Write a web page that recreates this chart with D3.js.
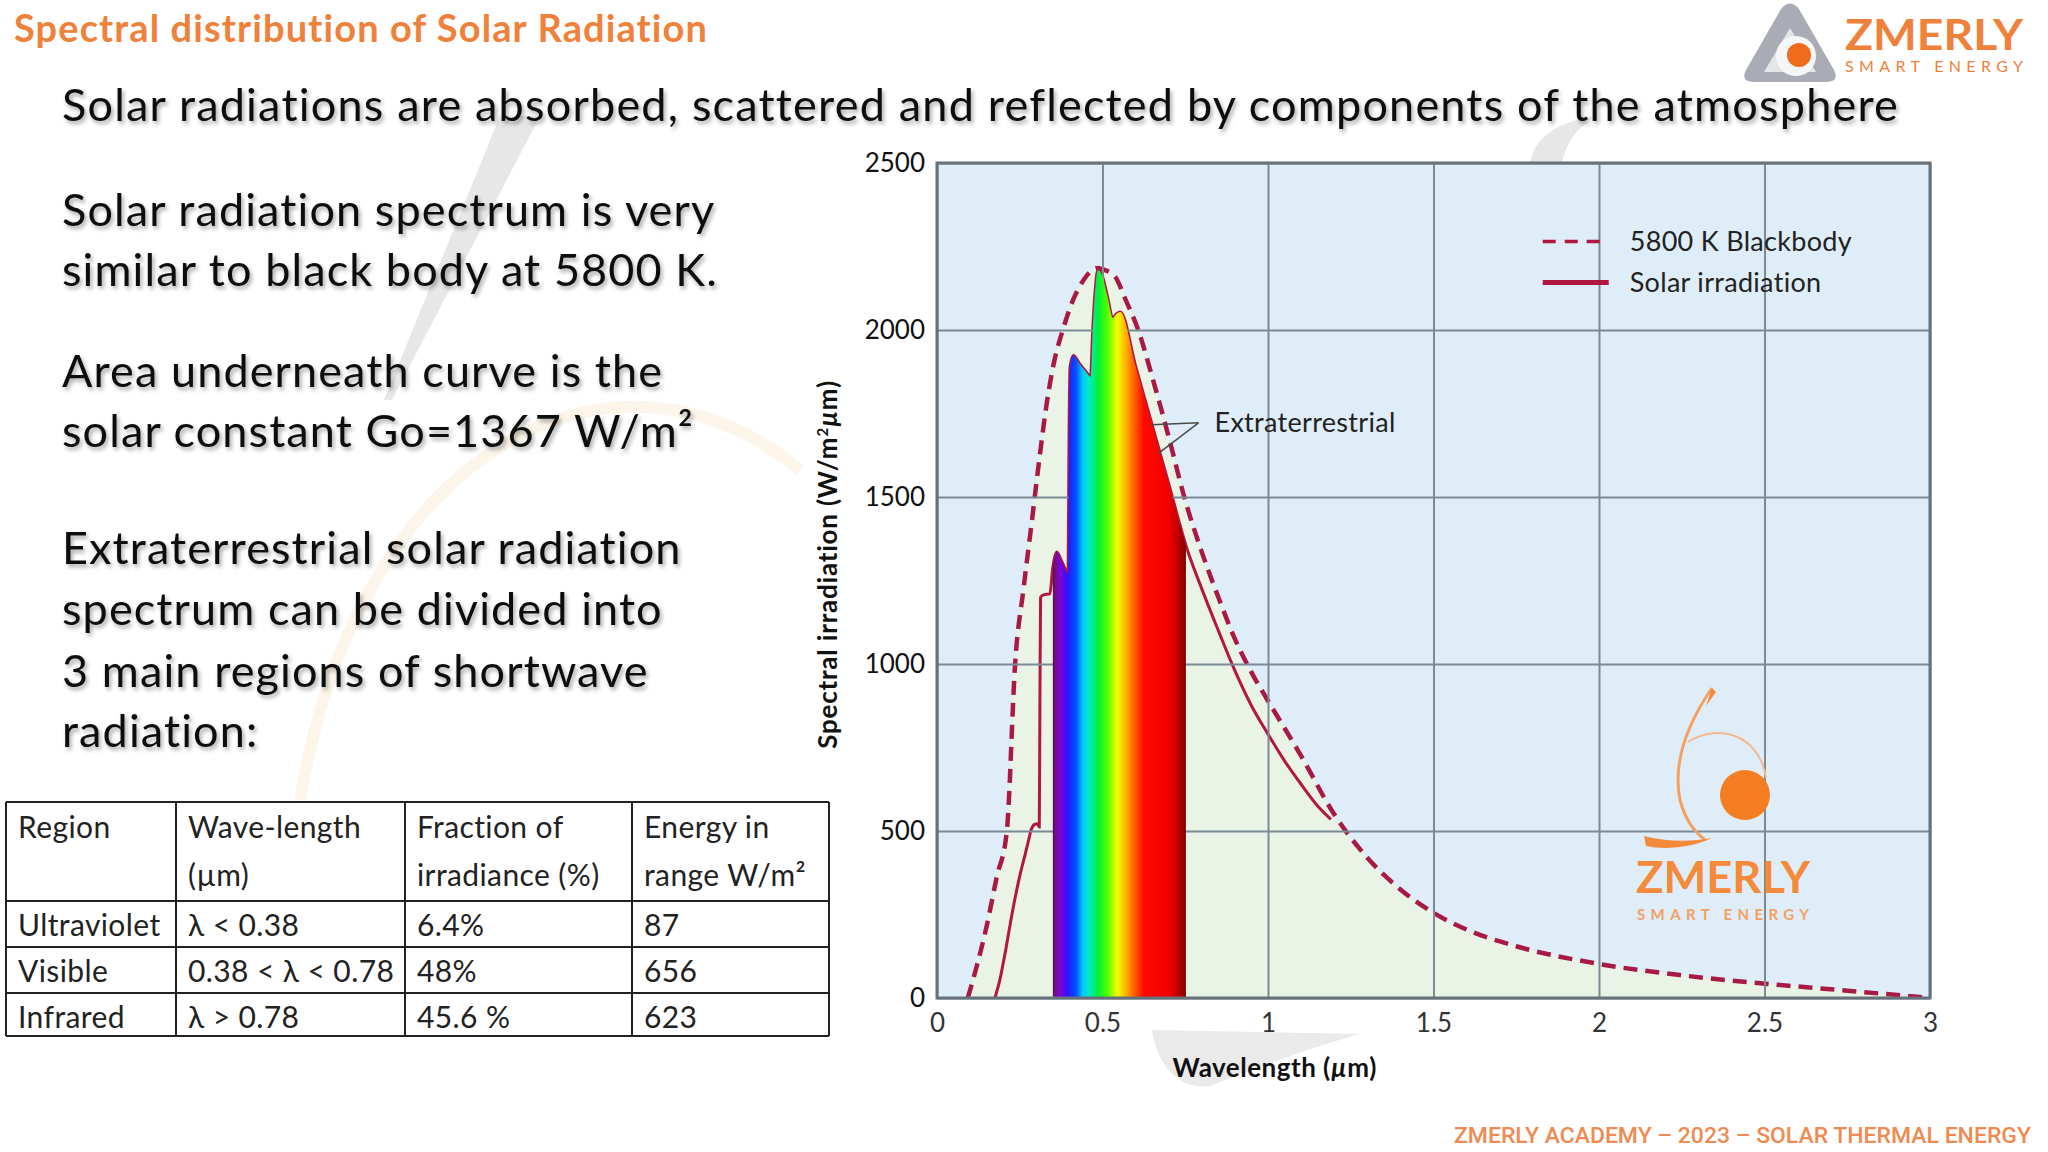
<!DOCTYPE html>
<html>
<head>
<meta charset="utf-8">
<script src="https://cdn.jsdelivr.net/npm/d3@7"></script>
<style>
    body { margin: 0; background: #ffffff; }
    svg { display: block; }
</style>
</head>
<body>
<div id="wrapper"></div>
<script>
// ---- chart data ----
const blackbody_wl = [0.093, 0.12, 0.15, 0.18, 0.211, 0.236, 0.262, 0.287, 0.31, 0.333, 0.355, 0.38, 0.409, 0.443, 0.47, 0.486, 0.505, 0.538, 0.57, 0.608, 0.65, 0.7, 0.747, 0.8, 0.85, 0.9, 0.95, 1.0, 1.1, 1.2, 1.3, 1.4, 1.5, 1.6, 1.75, 2.0, 2.25, 2.5, 2.75, 3.0];
const blackbody_val = [0, 95, 215, 360, 500, 1000, 1230, 1431, 1620, 1790, 1910, 2000, 2085, 2150, 2180, 2186, 2180, 2160, 2090, 2000, 1860, 1680, 1500, 1335, 1200, 1075, 975, 890, 725, 550, 420, 325, 255, 205, 155, 102, 68, 43, 22, 0];

const solar_wl = [0.175, 0.19, 0.205, 0.22, 0.235, 0.25, 0.265, 0.275, 0.285, 0.295, 0.303, 0.309, 0.311, 0.313, 0.322, 0.341, 0.35, 0.362, 0.378, 0.396, 0.399, 0.402, 0.412, 0.43, 0.45, 0.464, 0.47, 0.478, 0.486, 0.5, 0.515, 0.531, 0.542, 0.554, 0.6, 0.65, 0.7, 0.754, 0.8, 0.85, 0.9, 0.95, 1.0, 1.05, 1.1, 1.15, 1.19];
const solar_val = [0, 55, 130, 215, 295, 365, 425, 465, 505, 520, 522, 512, 900, 1200, 1207, 1210, 1290, 1335, 1305, 1272, 1700, 1890, 1924, 1900, 1875, 1860, 1990, 2120, 2180, 2160, 2100, 2036, 2048, 2054, 1892, 1716, 1540, 1349, 1225, 1100, 980, 875, 790, 710, 640, 575, 535];

// visible band colours
const spectrum_wl = [0.35, 0.356, 0.372, 0.395, 0.42, 0.44, 0.46, 0.485, 0.515, 0.545, 0.57, 0.595, 0.625, 0.7, 0.732, 0.752];
const spectrum_color = ["#5a0c30", "#6c0f8a", "#8200d6", "#2a14ff", "#0050ff", "#00c8ff", "#00eec0", "#00f040", "#50ff00", "#f2ff00", "#ffb400", "#ff6200", "#ff0a00", "#f20000", "#b80000", "#7c0000"];

const x_ticks = [0, 0.5, 1, 1.5, 2, 2.5, 3];
const y_ticks = [0, 500, 1000, 1500, 2000, 2500];
const series_names = ["5800 K Blackbody", "Solar irradiation"];

// ---- slide text ----
const title_text = "Spectral distribution of Solar Radiation";
const headline_text = "Solar radiations are absorbed, scattered and reflected by components of the atmosphere";
const body_lines = [
    "Solar radiation spectrum is very",
    "similar to black body at 5800 K.",
    "Area underneath curve is the",
    "solar constant Go=1367 W/m²",
    "Extraterrestrial solar radiation",
    "spectrum can be divided into",
    "3 main regions of shortwave",
    "radiation:"
];
const body_baselines = [226, 286, 387, 447, 564, 625, 687, 747];

const table_header = [["Region", ""], ["Wave-length", "(µm)"], ["Fraction of", "irradiance (%)"], ["Energy in", "range W/m²"]];
const table_rows = [
    ["Ultraviolet", "λ < 0.38", "6.4%", "87"],
    ["Visible", "0.38 < λ < 0.78", "48%", "656"],
    ["Infrared", "λ > 0.78", "45.6 %", "623"]
];

const blackbody = blackbody_wl.map((d, i) => ({ wl: d, val: blackbody_val[i] }));
const solar = solar_wl.map((d, i) => ({ wl: d, val: solar_val[i] }));

const body_font = "Lato, 'Open Sans', sans-serif";
const orange = "#f0813a";
const crimson = "#b3163f";

const svg = d3.select("#wrapper")
    .append("svg")
    .attr("width", 2048)
    .attr("height", 1152);

const defs = svg.append("defs");

const shadow = defs.append("filter").attr("id", "shadow")
    .attr("x", "-5%").attr("y", "-20%").attr("width", "110%").attr("height", "160%");
shadow.append("feDropShadow")
    .attr("dx", 2).attr("dy", 3).attr("stdDeviation", 2)
    .attr("flood-color", "#000").attr("flood-opacity", 0.35);

// ---- faint background decorations ----
const deco = svg.append("g");
deco.append("path")
    .attr("d", "M500 116 L540 116 L392 400 L384 400 Z")
    .attr("fill", "#cfcfcf").attr("opacity", 0.5);
deco.append("path")
    .attr("d", "M800 470 C 620 320 360 440 300 800")
    .attr("fill", "none").attr("stroke", "#f8dfb8").attr("stroke-width", 12).attr("opacity", 0.3);
deco.append("path")
    .attr("d", "M1530 163 C 1535 140 1550 124 1595 116 C 1575 130 1565 145 1562 163 Z")
    .attr("fill", "#cfcfcf").attr("opacity", 0.5);
deco.append("path")
    .attr("d", "M1152 1030 C 1158 1068 1180 1090 1210 1086 C 1260 1066 1310 1048 1360 1034 Z")
    .attr("fill", "#d6d6d6").attr("opacity", 0.5);

// ---- title, headline, body ----
svg.append("text")
    .attr("x", 14).attr("y", 42)
    .attr("font-family", body_font).attr("font-weight", 700)
    .attr("font-size", 38).attr("letter-spacing", 1.1).attr("fill", orange)
    .text(title_text);

svg.append("text")
    .attr("x", 62).attr("y", 121)
    .attr("font-family", body_font).attr("font-size", 45).attr("letter-spacing", 1.2)
    .attr("fill", "#111").attr("filter", "url(#shadow)")
    .text(headline_text);

svg.append("g").selectAll("text")
    .data(body_lines)
    .join("text")
    .attr("x", 62)
    .attr("y", (d, i) => body_baselines[i])
    .attr("font-family", body_font).attr("font-size", 45).attr("letter-spacing", 1.1)
    .attr("fill", "#111").attr("filter", "url(#shadow)")
    .text(d => d);

// ---- table ----
const col_x = [6, 176, 405, 632, 829];
const row_y = [802, 901, 947, 993, 1036];
const table = svg.append("g");
table.append("rect")
    .attr("x", col_x[0]).attr("y", row_y[0])
    .attr("width", col_x[4] - col_x[0]).attr("height", row_y[4] - row_y[0])
    .attr("fill", "#fff").attr("opacity", 0.9);
col_x.forEach(x => table.append("line")
    .attr("x1", x).attr("x2", x).attr("y1", row_y[0]).attr("y2", row_y[4])
    .attr("stroke", "#222").attr("stroke-width", 2));
row_y.forEach(y => table.append("line")
    .attr("x1", col_x[0]).attr("x2", col_x[4]).attr("y1", y).attr("y2", y)
    .attr("stroke", "#222").attr("stroke-width", 2));
table_header.forEach((lines, c) => {
    lines.forEach((t, l) => table.append("text")
        .attr("x", col_x[c] + 12).attr("y", 838 + l * 48)
        .attr("font-family", body_font).attr("font-size", 30).attr("letter-spacing", 0.4).attr("fill", "#222")
        .text(t));
});
table_rows.forEach((row, r) => {
    row.forEach((t, c) => table.append("text")
        .attr("x", col_x[c] + 12).attr("y", 936 + r * 46)
        .attr("font-family", body_font).attr("font-size", 30).attr("letter-spacing", 0.4).attr("fill", "#222")
        .text(t));
});

// ---- top right logo ----
const logo = svg.append("g");
logo.append("path")
    .attr("d", "M1781 9 Q1790 -2 1799 9 L1834 70 Q1840 82 1826 82 L1754 82 Q1740 82 1746 70 Z")
    .attr("fill", "#a9acb4");
logo.append("path")
    .attr("d", "M1790 28 L1816 72 L1764 72 Z")
    .attr("fill", "#e4e5e8");
logo.append("circle").attr("cx", 1796).attr("cy", 56).attr("r", 20).attr("fill", "#f6f6f6");
logo.append("circle").attr("cx", 1799).attr("cy", 55).attr("r", 12).attr("fill", "#f26a1b");
logo.append("text")
    .attr("x", 1845).attr("y", 50)
    .attr("font-family", body_font).attr("font-weight", 700).attr("font-size", 42)
    .attr("fill", orange).attr("textLength", 178).attr("lengthAdjust", "spacingAndGlyphs")
    .text("ZMERLY");
logo.append("text")
    .attr("x", 1845).attr("y", 72)
    .attr("font-family", body_font).attr("font-size", 16)
    .attr("fill", orange).attr("textLength", 178).attr("lengthAdjust", "spacing")
    .text("SMART ENERGY");

// ---- chart ----
const dimensions = { left: 937, top: 163, width: 993, height: 835 };

const x_scale = d3.scaleLinear().domain([0, 3]).range([0, dimensions.width]);
const y_scale = d3.scaleLinear().domain([0, 2500]).range([dimensions.height, 0]);

const bounds = svg.append("g")
    .attr("transform", `translate(${dimensions.left},${dimensions.top})`);

const clip = defs.append("clipPath").attr("id", "plot-clip");
clip.append("rect").attr("width", dimensions.width).attr("height", dimensions.height);

const band = defs.append("clipPath").attr("id", "band-clip");
band.append("rect")
    .attr("x", x_scale(spectrum_wl[0]))
    .attr("width", x_scale(spectrum_wl[spectrum_wl.length - 1]) - x_scale(spectrum_wl[0]))
    .attr("height", dimensions.height);

const grad = defs.append("linearGradient").attr("id", "rainbow")
    .attr("gradientUnits", "userSpaceOnUse")
    .attr("x1", x_scale(spectrum_wl[0])).attr("x2", x_scale(spectrum_wl[spectrum_wl.length - 1]))
    .attr("y1", 0).attr("y2", 0);
const band_extent = d3.extent(spectrum_wl);
grad.selectAll("stop")
    .data(spectrum_wl)
    .join("stop")
    .attr("offset", d => (d - band_extent[0]) / (band_extent[1] - band_extent[0]))
    .attr("stop-color", (d, i) => spectrum_color[i]);

bounds.append("rect")
    .attr("width", dimensions.width).attr("height", dimensions.height)
    .attr("fill", "#deedf7");

const area_gen = d3.area()
    .x(d => x_scale(d.wl))
    .y0(y_scale(0))
    .y1(d => y_scale(d.val))
    .curve(d3.curveMonotoneX);

const line_gen = d3.line()
    .x(d => x_scale(d.wl))
    .y(d => y_scale(d.val))
    .curve(d3.curveMonotoneX);

const plot = bounds.append("g").attr("clip-path", "url(#plot-clip)");

plot.append("path")
    .datum(blackbody)
    .attr("d", area_gen)
    .attr("fill", "#e9f3e6");

// grid
const x_grid = bounds.append("g")
    .attr("transform", `translate(0,${dimensions.height})`)
    .call(d3.axisBottom(x_scale).tickValues(x_ticks).tickSize(-dimensions.height).tickFormat(""));
const y_grid = bounds.append("g")
    .call(d3.axisLeft(y_scale).tickValues(y_ticks).tickSize(-dimensions.width).tickFormat(""));
[x_grid, y_grid].forEach(g => {
    g.select(".domain").remove();
    g.selectAll("line").attr("stroke", "#7b8a95").attr("stroke-width", 2);
});

// visible band
bounds.append("path")
    .datum(solar)
    .attr("d", area_gen)
    .attr("fill", "url(#rainbow)")
    .attr("clip-path", "url(#band-clip)");

// curves
plot.append("path")
    .datum(solar)
    .attr("d", line_gen)
    .attr("fill", "none")
    .attr("stroke", crimson)
    .attr("stroke-width", 3);

plot.append("path")
    .datum(blackbody)
    .attr("d", line_gen)
    .attr("fill", "none")
    .attr("stroke", "#a81a45")
    .attr("stroke-width", 4.5)
    .attr("stroke-dasharray", "14 8");

// border
bounds.append("rect")
    .attr("width", dimensions.width).attr("height", dimensions.height)
    .attr("fill", "none").attr("stroke", "#66717a").attr("stroke-width", 3);

// axes labels
const x_axis = bounds.append("g")
    .attr("transform", `translate(0,${dimensions.height})`)
    .call(d3.axisBottom(x_scale).tickValues(x_ticks).tickSize(0).tickPadding(16).tickFormat(d3.format("")));
const y_axis = bounds.append("g")
    .call(d3.axisLeft(y_scale).tickValues(y_ticks).tickSize(0).tickPadding(12).tickFormat(d3.format("d")));
[x_axis, y_axis].forEach(g => {
    g.select(".domain").remove();
    g.selectAll("text")
        .attr("font-family", body_font).attr("font-size", 26)
        .attr("fill", "#111");
});
x_axis.selectAll("text").attr("fill", "#333");

const x_label = bounds.append("text")
    .attr("x", x_scale(1.02))
    .attr("y", dimensions.height + 79)
    .attr("text-anchor", "middle")
    .attr("font-family", body_font).attr("font-weight", 700).attr("font-size", 26)
    .attr("letter-spacing", 0.5)
    .attr("fill", "#111");
x_label.append("tspan").text("Wavelength (");
x_label.append("tspan").attr("font-style", "italic").text("µ");
x_label.append("tspan").text("m)");

const y_label = bounds.append("text")
    .attr("transform", `translate(-100,${dimensions.height / 2 - 16}) rotate(-90)`)
    .attr("text-anchor", "middle")
    .attr("font-family", body_font).attr("font-weight", 700).attr("font-size", 26)
    .attr("letter-spacing", 0.8)
    .attr("fill", "#111");
y_label.append("tspan").text("Spectral irradiation (W/m");
y_label.append("tspan").attr("baseline-shift", "super").attr("font-size", 15).text("2");
y_label.append("tspan").attr("font-style", "italic").text("µ");
y_label.append("tspan").text("m)");

// legend
const legend = bounds.append("g")
    .attr("transform", `translate(${x_scale(1.83)},${y_scale(2265)})`);
legend.selectAll("line")
    .data(series_names)
    .join("line")
    .attr("x1", 0).attr("x2", 66)
    .attr("y1", (d, i) => i * 41).attr("y2", (d, i) => i * 41)
    .attr("stroke", crimson)
    .attr("stroke-width", (d, i) => i === 0 ? 3.5 : 5)
    .attr("stroke-dasharray", (d, i) => i === 0 ? "13 9" : null);
legend.selectAll("text")
    .data(series_names)
    .join("text")
    .attr("x", 87)
    .attr("y", (d, i) => i * 41)
    .attr("dy", "0.35em")
    .attr("font-family", body_font).attr("font-size", 27)
    .attr("letter-spacing", 0.3)
    .attr("fill", "#222")
    .text(d => d);

// annotation
const note_at = { wl: 0.79, val: 1722 };
const note_targets = [{ wl: 0.647, val: 1716 }, { wl: 0.668, val: 1630 }];
bounds.selectAll(".leader")
    .data(note_targets)
    .join("line")
    .attr("class", "leader")
    .attr("x1", x_scale(note_at.wl)).attr("y1", y_scale(note_at.val))
    .attr("x2", d => x_scale(d.wl)).attr("y2", d => y_scale(d.val))
    .attr("stroke", "#4a4a4a").attr("stroke-width", 1.5);
bounds.append("text")
    .attr("x", x_scale(note_at.wl) + 16)
    .attr("y", y_scale(note_at.val))
    .attr("dy", "0.35em")
    .attr("font-family", body_font).attr("font-size", 27)
    .attr("letter-spacing", 0.3)
    .attr("fill", "#222")
    .text("Extraterrestrial");

// watermark logo inside the plot
const mark = svg.append("g");
mark.append("path")
    .attr("d", "M1712 688 C 1690 720 1672 760 1680 800 C 1686 822 1695 832 1705 840")
    .attr("fill", "none").attr("stroke", "#f5a060").attr("stroke-width", 3);
mark.append("path")
    .attr("d", "M1712 688 L1706 706 L1716 692 Z")
    .attr("fill", "#f58a3a");
mark.append("path")
    .attr("d", "M1688 742 C 1720 722 1760 736 1766 778")
    .attr("fill", "none").attr("stroke", "#f5b890").attr("stroke-width", 2);
mark.append("path")
    .attr("d", "M1644 836 C 1670 842 1690 842 1712 838 C 1690 848 1665 850 1646 846 Z")
    .attr("fill", "#f58a3a");
mark.append("circle").attr("cx", 1745).attr("cy", 795).attr("r", 25).attr("fill", "#f57d22");
mark.append("text")
    .attr("x", 1636).attr("y", 893)
    .attr("font-family", body_font).attr("font-weight", 700).attr("font-size", 44)
    .attr("fill", "#f58a3a").attr("textLength", 174).attr("lengthAdjust", "spacingAndGlyphs")
    .text("ZMERLY");
mark.append("text")
    .attr("x", 1637).attr("y", 920)
    .attr("font-family", body_font).attr("font-weight", 700).attr("font-size", 15)
    .attr("fill", "#f5a060").attr("textLength", 172).attr("lengthAdjust", "spacing")
    .text("SMART ENERGY");

// footer
svg.append("text")
    .attr("x", 1454).attr("y", 1143)
    .attr("font-family", "Roboto, sans-serif").attr("font-weight", 500).attr("font-size", 22)
    .attr("fill", "#ef8a52").attr("textLength", 577).attr("lengthAdjust", "spacingAndGlyphs")
    .text("ZMERLY ACADEMY – 2023 – SOLAR THERMAL ENERGY");
</script>
</body>
</html>
